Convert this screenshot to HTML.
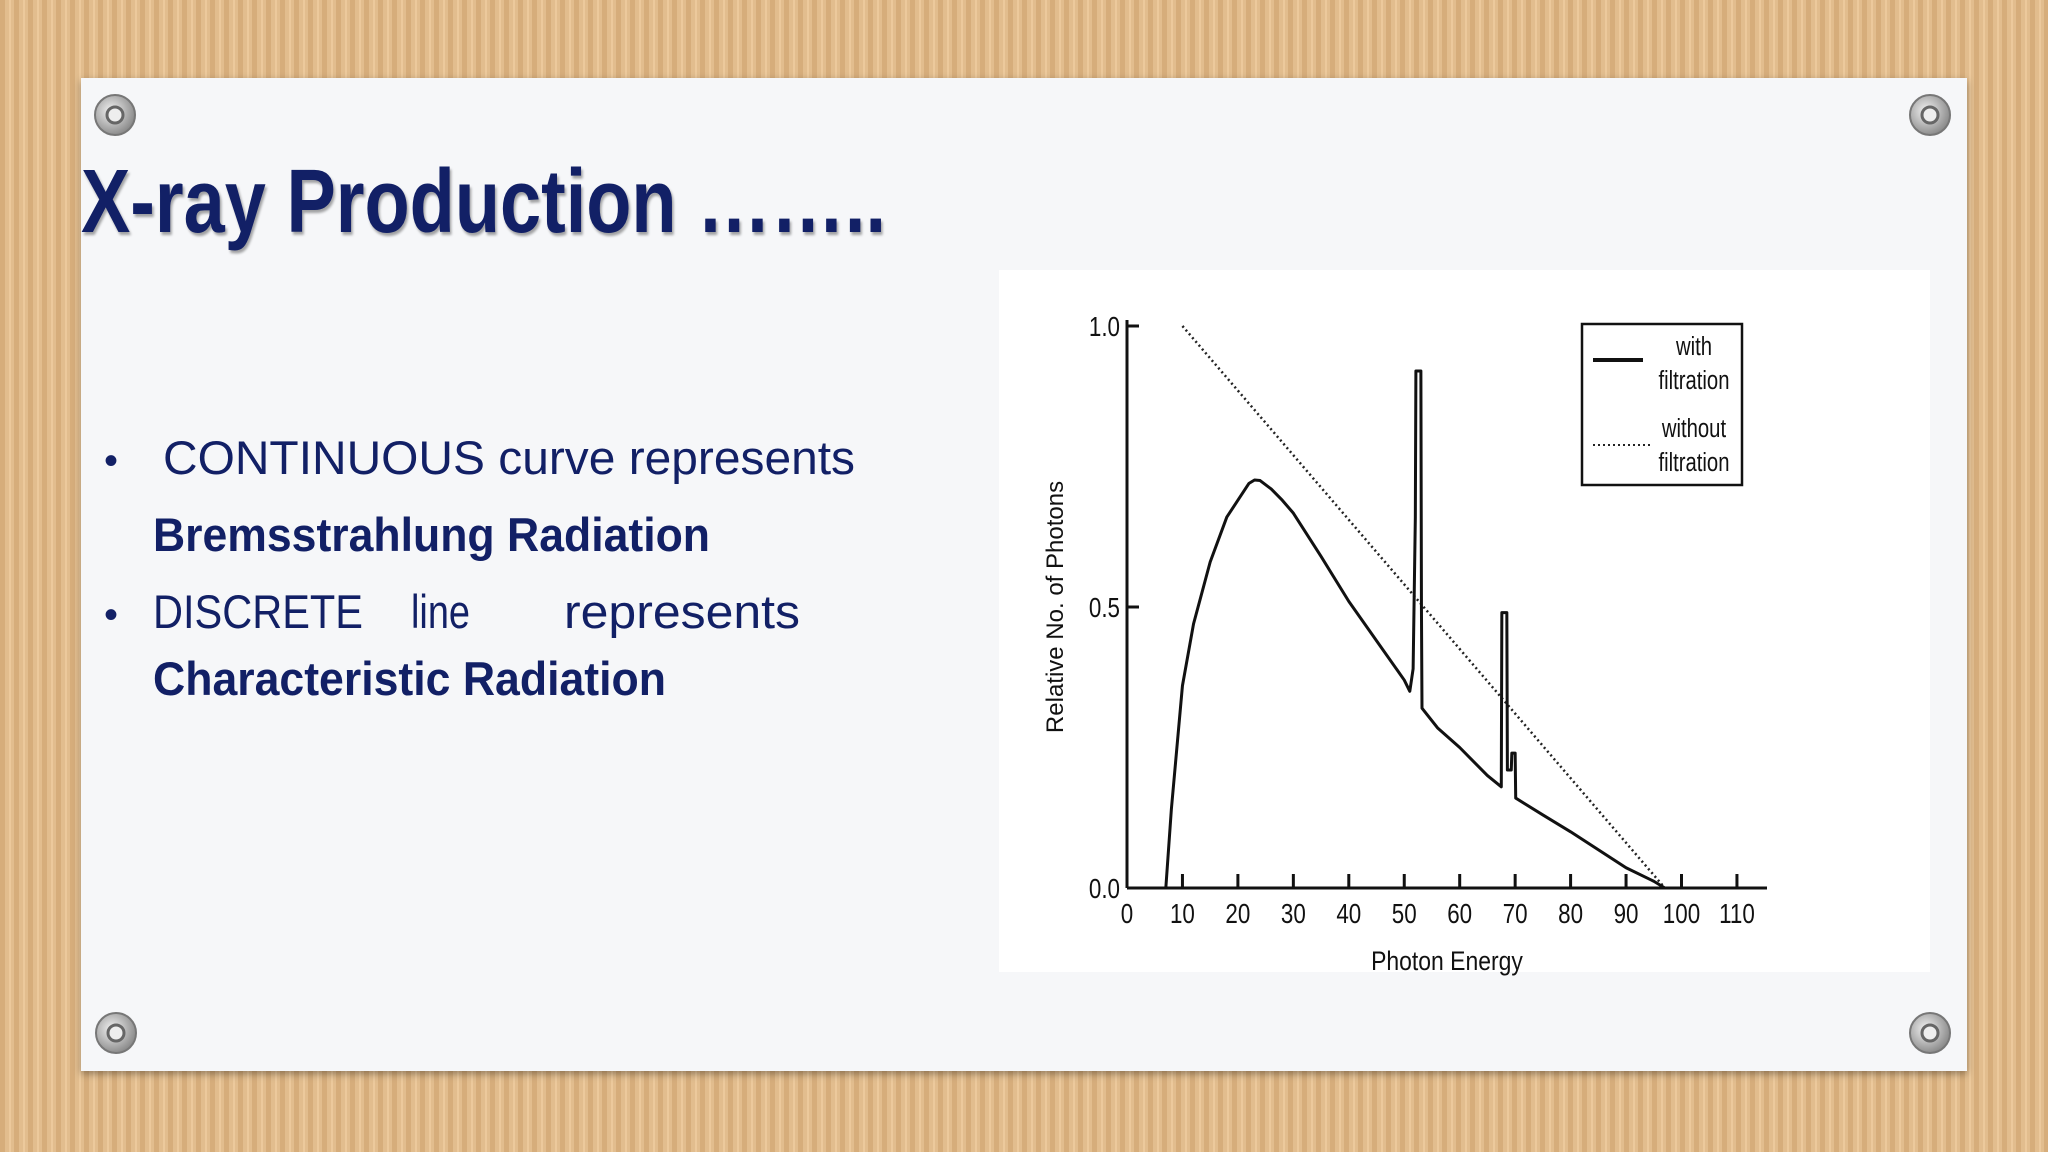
<!DOCTYPE html>
<html><head><meta charset="utf-8"><style>
html,body{margin:0;padding:0;width:2048px;height:1152px;overflow:hidden}
svg{display:block}
</style></head><body>
<svg id="page" width="2048" height="1152" viewBox="0 0 2048 1152" xmlns="http://www.w3.org/2000/svg">
<defs>
<pattern id="card" width="14" height="10" patternUnits="userSpaceOnUse">
<rect width="14" height="10" fill="#e2bd8e"/>
<rect x="0" width="5" height="10" fill="#d6ad7b"/>
<rect x="9" width="2" height="10" fill="#ecc99c"/>
</pattern>
<radialGradient id="screw" cx="0.4" cy="0.4" r="0.6"><stop offset="0" stop-color="#f2f2f2"/><stop offset="1" stop-color="#8d8d8d"/></radialGradient>
<filter id="sh" x="-5%" y="-5%" width="110%" height="110%"><feDropShadow dx="0" dy="3" stdDeviation="4" flood-opacity="0.35"/></filter>
</defs>
<rect width="2048" height="1152" fill="url(#card)"/>
<rect x="81" y="78" width="1886" height="993" fill="#f6f7f9" filter="url(#sh)"/>
<g>
<circle cx="115" cy="115" r="20" fill="url(#screw)" stroke="#777" stroke-width="2"/><circle cx="115" cy="115" r="8" fill="#eee" stroke="#666" stroke-width="3"/>
<circle cx="1930" cy="115" r="20" fill="url(#screw)" stroke="#777" stroke-width="2"/><circle cx="1930" cy="115" r="8" fill="#eee" stroke="#666" stroke-width="3"/>
<circle cx="116" cy="1033" r="20" fill="url(#screw)" stroke="#777" stroke-width="2"/><circle cx="116" cy="1033" r="8" fill="#eee" stroke="#666" stroke-width="3"/>
<circle cx="1930" cy="1033" r="20" fill="url(#screw)" stroke="#777" stroke-width="2"/><circle cx="1930" cy="1033" r="8" fill="#eee" stroke="#666" stroke-width="3"/>
</g>
<g font-family="Liberation Sans, sans-serif" fill="#122066">
<text x="81" y="232" font-size="90" font-weight="bold" textLength="805" lengthAdjust="spacingAndGlyphs" style="text-shadow:2px 3px 3px rgba(0,0,0,.35)">X-ray Production ……..</text>
<text x="104" y="474" font-size="40">•</text>
<text x="163" y="474" font-size="47" textLength="692" lengthAdjust="spacingAndGlyphs">CONTINUOUS curve represents</text>
<text x="153" y="551" font-size="47" font-weight="bold" textLength="557" lengthAdjust="spacingAndGlyphs">Bremsstrahlung Radiation</text>
<text x="104" y="628" font-size="40">•</text>
<g>
<text x="153" y="628" font-size="47" textLength="210" lengthAdjust="spacingAndGlyphs">DISCRETE</text>
<text x="411" y="628" font-size="47" textLength="59" lengthAdjust="spacingAndGlyphs">line</text>
<text x="564" y="628" font-size="47" textLength="236" lengthAdjust="spacingAndGlyphs">represents</text>
</g>
<text x="153" y="695" font-size="47" font-weight="bold" textLength="513" lengthAdjust="spacingAndGlyphs">Characteristic Radiation</text>
</g>
<rect x="999" y="270" width="931" height="702" fill="#ffffff"/>
<g id="chart" font-family="Liberation Sans, sans-serif" fill="#111"></g>
</svg>
<script>
const xTicks=[0,10,20,30,40,50,60,70,80,90,100,110];
const yTicks=[0,0.5,1.0];
const yTickLabels=["0.0","0.5","1.0"];
const withEnergy=[7,8,10,12,15,18,20,22,23,24,26,28,30,35,40,45,50,51,51.3,51.6,52,52.1,53,53.1,53.2,56,60,65,67.5,67.6,68.5,68.6,69.3,69.4,70,70.1,75,80,85,90,95,97];
const withCount=[0,0.14,0.36,0.47,0.58,0.66,0.69,0.72,0.726,0.725,0.71,0.69,0.667,0.59,0.51,0.44,0.37,0.35,0.37,0.39,0.66,0.92,0.92,0.5,0.32,0.285,0.25,0.2,0.18,0.49,0.49,0.21,0.21,0.24,0.24,0.16,0.13,0.1,0.068,0.036,0.012,0];
const withoutEnergy=[10,97];
const withoutCount=[1.0,0];
const X=v=>1127+v*5.545, Y=v=>888-v*562;
const g=document.getElementById('chart');
const NS='http://www.w3.org/2000/svg';
function mk(t,a,txt){const e=document.createElementNS(NS,t);for(const k in a)e.setAttribute(k,a[k]);if(txt!==undefined)e.textContent=txt;g.appendChild(e);return e;}
let e;
e=mk('line',{x1:X(0),y1:Y(0),x2:1767,y2:Y(0),stroke:'#111','stroke-width':3});


e=mk('line',{x1:X(0),y1:Y(0),x2:X(0),y2:320,stroke:'#111','stroke-width':3});


xTicks.forEach(t=>{
 if(t>0){e=mk('line',{x1:X(t),y1:Y(0),x2:X(t),y2:Y(0)-14,stroke:'#111','stroke-width':3});
 
 }
 e=mk('text',{x:X(t),y:923,'font-size':28,'text-anchor':'middle',transform:`translate(${X(t)},0) scale(0.8,1) translate(${-X(t)},0)`},String(t));
 
 
});
yTicks.forEach((t,i)=>{
 e=mk('line',{x1:X(0),y1:Y(t),x2:X(0)+12,y2:Y(t),stroke:'#111','stroke-width':3});
 
 
 e=mk('text',{x:1120,y:Y(t)+10,'font-size':28,'text-anchor':'end',transform:`translate(1120,0) scale(0.8,1) translate(-1120,0)`},yTickLabels[i]);
 
 
});
e=mk('text',{x:0,y:0,'font-size':24,'text-anchor':'middle',transform:'translate(1063,607) rotate(-90)'},'Relative No. of Photons');


e=mk('text',{x:1447,y:970,'font-size':27,'text-anchor':'middle',transform:'translate(1447,0) scale(0.85,1) translate(-1447,0)'},'Photon Energy');


e=mk('polyline',{points:withoutEnergy.map((v,i)=>X(v)+','+Y(withoutCount[i])).join(' '),fill:'none',stroke:'#222','stroke-width':2.5,'stroke-dasharray':'2 3'});


e=mk('polyline',{points:withEnergy.map((v,i)=>X(v)+','+Y(withCount[i])).join(' '),fill:'none',stroke:'#111','stroke-width':3,'stroke-linejoin':'round'});


e=mk('rect',{x:1582,y:324,width:160,height:161,fill:'#fff',stroke:'#111','stroke-width':2.5});


e=mk('line',{x1:1593,y1:360,x2:1643,y2:360,stroke:'#111','stroke-width':4});


e=mk('line',{x1:1593,y1:445,x2:1650,y2:445,stroke:'#222','stroke-width':2,'stroke-dasharray':'2 3'});


[['with',1694,355],['filtration',1694,389],['without',1694,437],['filtration',1694,471]].forEach(a=>{
 e=mk('text',{x:a[1],y:a[2],'font-size':26,'text-anchor':'middle',transform:`translate(${a[1]},0) scale(0.78,1) translate(${-a[1]},0)`},a[0]);
 
 
});
</script>
</body></html>
